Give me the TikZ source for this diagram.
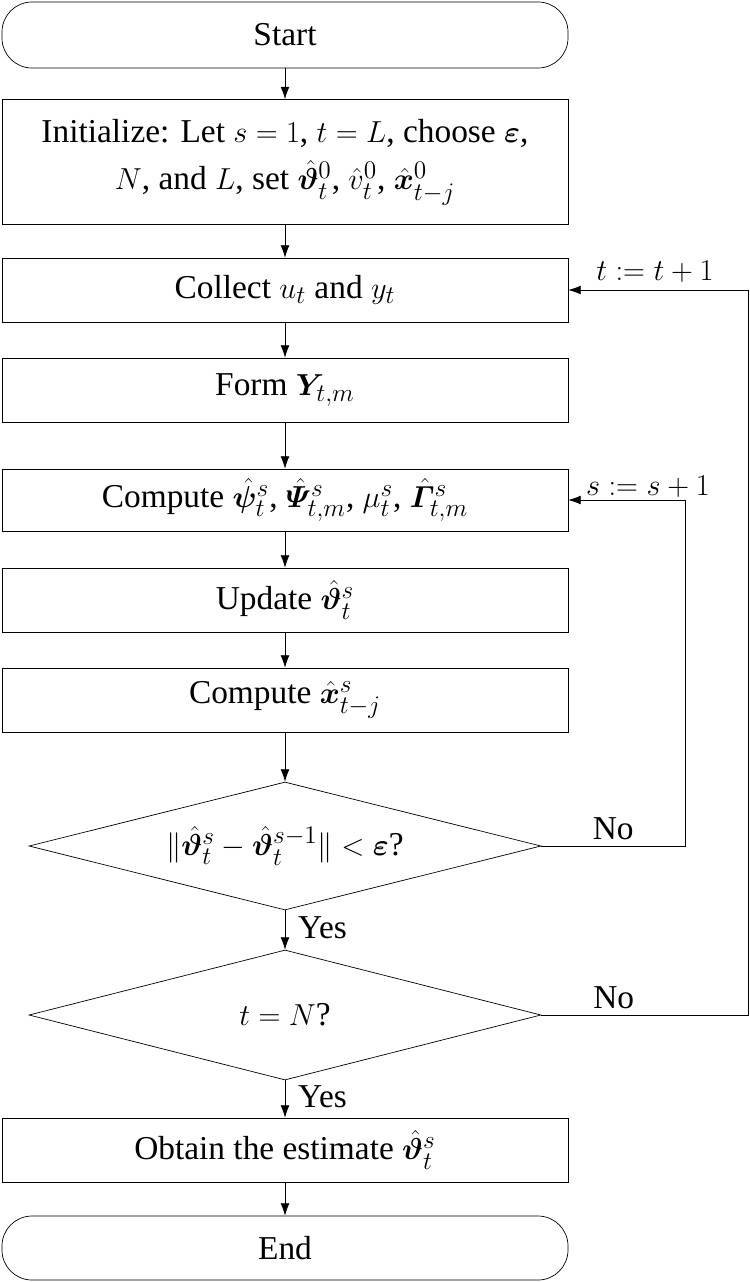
\documentclass[tikz,border=0pt]{standalone}
\usepackage{amsmath,bm}
\usepackage{fontspec}
\setmainfont{Liberation Serif}
\usetikzlibrary{shapes.geometric,arrows.meta}
\begin{document}
\begin{tikzpicture}[x=0.02cm,y=-0.02cm,
  every node/.style={font=\fontsize{19}{23}\selectfont},
  box/.style={draw,minimum width=566*0.02cm,align=center,inner sep=0pt},
  term/.style={box,rounded corners=0.6cm},
  dec/.style={draw,diamond,aspect=4,inner sep=0pt,minimum width=512*0.02cm,minimum height=128*0.02cm},
  arr/.style={-{Latex[length=7pt,width=5pt]}},
  lbl/.style={font=\fontsize{19}{23}\selectfont}]
\useasboundingbox (0,0) rectangle (750,1282);
\node[term,minimum height=66*0.02cm] (start) at (285,35) {Start};
\node[box,minimum height=125*0.02cm] (init) at (285,162) {Initialize: Let $s=1$, $t=L$, choose $\bm{\varepsilon}$,\\[4pt] $N$, and $L$, set $\hat{\bm{\vartheta}}_t^0$, $\hat{v}_t^0$, $\hat{\bm{x}}_{t-j}^0$};
\node[box,minimum height=64*0.02cm] (coll) at (285,290) {Collect $u_t$ and $y_t$};
\node[box,minimum height=64*0.02cm] (form) at (285,390) {Form $\bm{Y}_{t,m}$};
\node[box,minimum height=62*0.02cm] (comp) at (285,500) {Compute $\hat{\bm{\psi}}_t^s$, $\hat{\bm{\varPsi}}_{t,m}^s$, $\mu_t^s$, $\hat{\bm{\varGamma}}_{t,m}^s$};
\node[box,minimum height=64*0.02cm] (upd) at (285,600) {Update $\hat{\bm{\vartheta}}_t^s$};
\node[box,minimum height=64*0.02cm] (cx) at (285,700) {Compute $\hat{\bm{x}}_{t-j}^s$};
\node[dec] (d1) at (285,846) {$\|\hat{\bm{\vartheta}}_t^s-\hat{\bm{\vartheta}}_t^{s-1}\|<\bm{\varepsilon}$?};
\node[dec,minimum height=130*0.02cm] (d2) at (285,1015) {$t=N$?};
\node[box,minimum height=64*0.02cm] (obt) at (285,1150) {Obtain the estimate $\hat{\bm{\vartheta}}_t^s$};
\node[term,minimum height=64*0.02cm] (end) at (285,1248) {End};
\draw[arr] (start) -- (init);
\draw[arr] (init) -- (coll);
\draw[arr] (coll) -- (form);
\draw[arr] (form) -- (comp);
\draw[arr] (comp) -- (upd);
\draw[arr] (upd) -- (cx);
\draw[arr] (cx) -- (d1);
\draw[arr] (d1) -- node[right,lbl,pos=0.45,xshift=4pt] {Yes} (d2);
\draw[arr] (d2) -- node[right,lbl,pos=0.45,xshift=4pt] {Yes} (obt);
\draw[arr] (obt) -- (end);
\coordinate (c1) at (685,846);
\coordinate (c2) at (685,500);
\coordinate (c3) at (748,1015);
\coordinate (c4) at (748,290);
\draw[arr] (d1.east) -- node[above,lbl,pos=0.5] {No} (c1) -- (c2) -- (comp.east);
\node[lbl] (sl) at (648,487) {$s:=s+1$};
\draw[arr] (d2.east) -- node[above,lbl,pos=0.35] {No} (c3) -- (c4) -- (coll.east);
\node[lbl] (tl) at (655,272) {$t:=t+1$};
\end{tikzpicture}
\end{document}
